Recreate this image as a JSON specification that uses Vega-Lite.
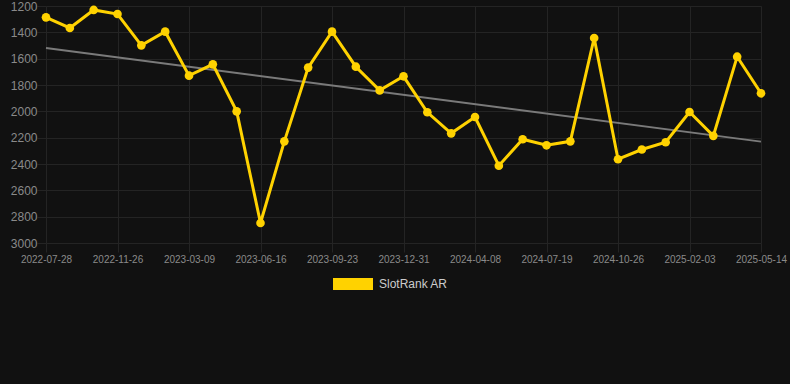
{
  "$schema": "https://vega.github.io/schema/vega-lite/v6.json",
  "width": 744,
  "height": 237,
  "autosize": "none",
  "padding": {"left": 46, "top": 6, "right": 0, "bottom": 141},
  "background": "#111111",
  "config": {"view": {"stroke": null}, "font": "Liberation Sans"},
  "data": {
    "values": [
      {"date": "2022-07-28", "rank": 1286, "trend": 1519},
      {"date": "2022-09-07", "rank": 1367},
      {"date": "2022-10-17", "rank": 1230},
      {"date": "2022-11-26", "rank": 1261},
      {"date": "2022-12-30", "rank": 1499},
      {"date": "2023-02-03", "rank": 1395},
      {"date": "2023-03-09", "rank": 1729},
      {"date": "2023-04-11", "rank": 1643},
      {"date": "2023-05-14", "rank": 2000},
      {"date": "2023-06-16", "rank": 2848},
      {"date": "2023-07-19", "rank": 2228},
      {"date": "2023-08-21", "rank": 1668},
      {"date": "2023-09-23", "rank": 1395},
      {"date": "2023-10-26", "rank": 1661},
      {"date": "2023-11-28", "rank": 1841},
      {"date": "2023-12-31", "rank": 1734},
      {"date": "2024-02-02", "rank": 2007},
      {"date": "2024-03-06", "rank": 2167},
      {"date": "2024-04-08", "rank": 2043},
      {"date": "2024-05-12", "rank": 2413},
      {"date": "2024-06-15", "rank": 2212},
      {"date": "2024-07-19", "rank": 2258},
      {"date": "2024-08-21", "rank": 2228},
      {"date": "2024-09-23", "rank": 1443},
      {"date": "2024-10-26", "rank": 2364},
      {"date": "2024-11-28", "rank": 2290},
      {"date": "2025-01-01", "rank": 2235},
      {"date": "2025-02-03", "rank": 2005},
      {"date": "2025-03-08", "rank": 2186},
      {"date": "2025-04-11", "rank": 1585},
      {"date": "2025-05-14", "rank": 1863, "trend": 2230}
    ]
  },
  "encoding": {
    "x": {
      "field": "date",
      "type": "ordinal",
      "sort": "ascending",
      "scale": {"type": "point", "range": [0, 715], "padding": 0},
      "axis": {
        "title": null,
        "values": ["2022-07-28", "2022-11-26", "2023-03-09", "2023-06-16", "2023-09-23", "2023-12-31", "2024-04-08", "2024-07-19", "2024-10-26", "2025-02-03", "2025-05-14"],
        "labelAngle": 0,
        "labelFontSize": 10,
        "labelColor": "#8a8a8a",
        "labelPadding": 2,
        "labelOverlap": false,
        "grid": true,
        "gridColor": "#242424",
        "ticks": true,
        "tickColor": "#242424",
        "tickSize": 9,
        "domain": false
      }
    }
  },
  "layer": [
    {
      "mark": {"type": "line", "color": "#7a7a7a", "strokeWidth": 2, "invalid": "filter"},
      "encoding": {
        "y": {
          "field": "trend",
          "type": "quantitative",
          "scale": {"domain": [1200, 3000], "reverse": true, "nice": false, "zero": false},
          "axis": {
            "title": null,
            "values": [1200, 1400, 1600, 1800, 2000, 2200, 2400, 2600, 2800, 3000],
            "tickCount": 20,
            "format": "d",
            "labelFontSize": 12,
            "labelColor": "#8a8a8a",
            "labelPadding": 0,
            "labelOverlap": false,
            "labelBound": false,
            "grid": true,
            "gridColor": "#242424",
            "ticks": true,
            "tickColor": "#242424",
            "tickSize": 9,
            "domain": false
          }
        }
      }
    },
    {
      "mark": {"type": "line", "strokeWidth": 3, "color": "#FFD200"},
      "encoding": {
        "y": {"field": "rank", "type": "quantitative"}
      }
    },
    {
      "mark": {"type": "point", "filled": true, "size": 75, "opacity": 1},
      "encoding": {
        "y": {"field": "rank", "type": "quantitative"},
        "color": {
          "datum": "SlotRank AR",
          "type": "nominal",
          "scale": {"range": ["#FFD200"]},
          "legend": {
            "title": null,
            "orient": "none",
            "legendX": 287,
            "legendY": 258,
            "symbolType": "M-1,-0.3L1,-0.3L1,0.3L-1,0.3Z",
            "symbolSize": 1600,
            "symbolFillColor": "#FFD200",
            "symbolStrokeWidth": 0,
            "symbolOpacity": 1,
            "labelFontSize": 12,
            "labelColor": "#cccccc",
            "labelOffset": 6
          }
        }
      }
    }
  ]
}
